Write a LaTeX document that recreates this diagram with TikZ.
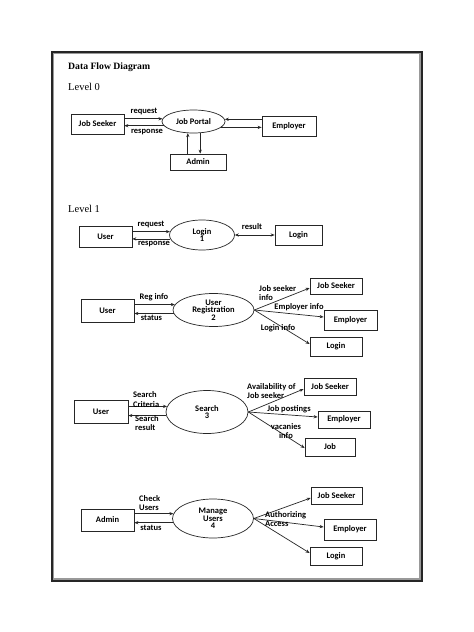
\documentclass[tikz,border=0pt]{standalone}
\usepackage{fontspec}
\setmainfont{Liberation Serif}
\newfontfamily\labfont{Carlito}
\usetikzlibrary{shapes.geometric,arrows.meta}
\tikzset{
  box/.style={draw=black!85, line width=0.7pt, rectangle, inner sep=0pt, font=\labfont\bfseries\fontsize{8.5}{9}\selectfont},
  proc/.style={draw=black!85, line width=0.7pt, ellipse, inner sep=0pt, align=center, font=\labfont\bfseries\fontsize{8.5}{7.5}\selectfont},
  arr/.style={-{Stealth[length=4pt,width=3.2pt]}, line width=0.7pt, draw=black!85},
  darr/.style={{Stealth[length=4pt,width=3.2pt]}-{Stealth[length=4pt,width=3.2pt]}, line width=0.9pt, draw=black!85},
  lbl/.style={inner sep=0pt, font=\labfont\bfseries\fontsize{8.5}{9.5}\selectfont},
  head/.style={inner sep=0pt, anchor=west}
}
\begin{document}
\begin{tikzpicture}[x=1pt,y=-1pt]
\useasboundingbox (0,0) rectangle (474,632);
\fill[white] (0,0) rectangle (474,632);
% frame
\draw[line width=2pt, black!85] (51.5,51.5) rectangle (422,581);
\draw[line width=1.2pt, black!40] (53.5,53.5) rectangle (420,579);

\node[head, font=\bfseries\fontsize{9.7}{11}\selectfont] (title) at (68,67) {Data Flow Diagram};
\node[head, font=\fontsize{10.5}{12}\selectfont] (lv0) at (68,87) {Level 0};
\node[head, font=\fontsize{10.5}{12}\selectfont] (lv1) at (68,209) {Level 1};

% ---------- Level 0 ----------
\node[box, minimum width=53pt, minimum height=20pt] (js0) at (97.5,124) {Job Seeker};
\node[proc, minimum width=63pt, minimum height=23pt] (jp0) at (193.5,121.5) {Job Portal};
\node[box, minimum width=54pt, minimum height=20pt] (em0) at (289,126) {Employer};
\node[box, minimum width=56pt, minimum height=16pt] (ad0) at (198,162) {Admin};
\draw[arr] (js0.east |- jp0.175.4) -- (jp0.175.4);
\draw[arr] (jp0.188.8) -- (js0.east |- jp0.188.8);
\draw[arr] (em0.west |- jp0.4.6) -- (jp0.4.6);
\draw[arr] (jp0.348.8) -- (em0.west |- jp0.348.8);
\draw[arr] (ad0.north -| jp0.244) -- (jp0.244);
\draw[arr] (jp0.300) -- (ad0.north -| jp0.300);
\node[lbl] (l0a) at (144,111) {request};
\node[lbl] (l0b) at (147,132) {response};

% ---------- Login 1 ----------
\node[box, minimum width=53pt, minimum height=21pt] (u1) at (105.5,236.5) {User};
\node[proc, minimum width=65pt, minimum height=30pt] (lg1e) at (202,235) {Login\\1};
\node[box, minimum width=47pt, minimum height=20pt] (lg1) at (298.5,235) {Login};
\draw[arr] (u1.east |- lg1e.174.6) -- (lg1e.174.6);
\draw[arr] (lg1e.187.3) -- (u1.east |- lg1e.187.3);
\draw[darr] (lg1e.east) -- (lg1.west |- lg1e.east);
\node[lbl] (l1a) at (151,224) {request};
\node[lbl] (l1b) at (154,244) {response};
\node[lbl] (l1c) at (252,227) {result};

% ---------- User Registration 2 ----------
\node[box, minimum width=53pt, minimum height=23pt] (u2) at (107.5,310.5) {User};
\node[proc, minimum width=81pt, minimum height=33pt] (ur2) at (213.5,310) {User\\Registration\\2};
\node[box, minimum width=52pt, minimum height=16pt] (js2) at (336,286) {Job Seeker};
\node[box, minimum width=53pt, minimum height=20pt] (em2) at (350.5,320) {Employer};
\node[box, minimum width=52pt, minimum height=19pt] (lgn2) at (336,346.5) {Login};
\draw[arr] (u2.east |- ur2.172.6) -- (ur2.172.6);
\draw[arr] (ur2.185) -- (u2.east |- ur2.185);
\coordinate (t2a) at (310,288);
\coordinate (t2b) at (324,317);
\coordinate (t2c) at (310,344);
\draw[arr] (ur2.east) -- (js2.west |- t2a);
\draw[arr] (ur2.east) -- (em2.west |- t2b);
\draw[arr] (ur2.east) -- (lgn2.west |- t2c);
\node[lbl] (l2a) at (154,297) {Reg info};
\node[lbl] (l2b) at (151.5,318) {status};
\node[lbl, anchor=west, align=left] (l2c) at (259,293) {Job seeker\\info};
\node[lbl] (l2d) at (299,307) {Employer info};
\node[lbl] (l2e) at (278,328) {Login info};

% ---------- Search 3 ----------
\node[box, minimum width=54pt, minimum height=23pt] (u3) at (101,411.5) {User};
\node[proc, minimum width=82pt, minimum height=43pt] (s3) at (207,412) {Search\\3};
\node[box, minimum width=52pt, minimum height=17pt] (js3) at (330,386.5) {Job Seeker};
\node[box, minimum width=52pt, minimum height=17pt] (em3) at (344,419.5) {Employer};
\node[box, minimum width=50pt, minimum height=18pt] (jb3) at (330,447) {Job};
\draw[arr] (u3.east |- s3.172.9) -- (s3.172.9);
\draw[arr] (s3.185.7) -- (u3.east |- s3.185.7);
\coordinate (t3a) at (304,389);
\coordinate (t3b) at (318,417);
\coordinate (t3c) at (305,448);
\draw[arr] (s3.east) -- (js3.west |- t3a);
\draw[arr] (s3.east) -- (em3.west |- t3b);
\draw[arr] (s3.east) -- (jb3.west |- t3c);
\node[lbl, anchor=west, align=left] (l3a) at (133,399.5) {Search\\Criteria};
\node[lbl, anchor=west, align=left] (l3b) at (135,423) {Search\\result};
\node[lbl, anchor=west, align=left] (l3c) at (247,391) {Availability of\\Job seeker};
\node[lbl] (l3d) at (289,409) {Job postings};
\node[lbl, align=center] (l3e) at (286,431) {vacanies\\info};

% ---------- Manage Users 4 ----------
\node[box, minimum width=53pt, minimum height=22pt] (ad4) at (107.5,520) {Admin};
\node[proc, minimum width=81pt, minimum height=39pt] (mu4) at (213,518.5) {Manage\\Users\\4};
\node[box, minimum width=51pt, minimum height=17pt] (js4) at (336.5,495.5) {Job Seeker};
\node[box, minimum width=52pt, minimum height=21pt] (em4) at (350,529.5) {Employer};
\node[box, minimum width=52pt, minimum height=18pt] (lg4) at (336,556) {Login};
\draw[arr] (ad4.east |- mu4.173.5) -- (mu4.173.5);
\draw[arr] (mu4.186.5) -- (ad4.east |- mu4.186.5);
\coordinate (t4a) at (311,498);
\coordinate (t4b) at (324,527);
\coordinate (t4c) at (310,553);
\draw[arr] (mu4.east) -- (js4.west |- t4a);
\draw[arr] (mu4.east) -- (em4.west |- t4b);
\draw[arr] (mu4.east) -- (lg4.west |- t4c);
\node[lbl, anchor=west, align=left] (l4a) at (139,503) {Check\\Users};
\node[lbl] (l4b) at (151,528) {status};
\node[lbl, anchor=west, align=left] (l4c) at (265,519) {Authorizing\\Access};
\end{tikzpicture}
\end{document}
